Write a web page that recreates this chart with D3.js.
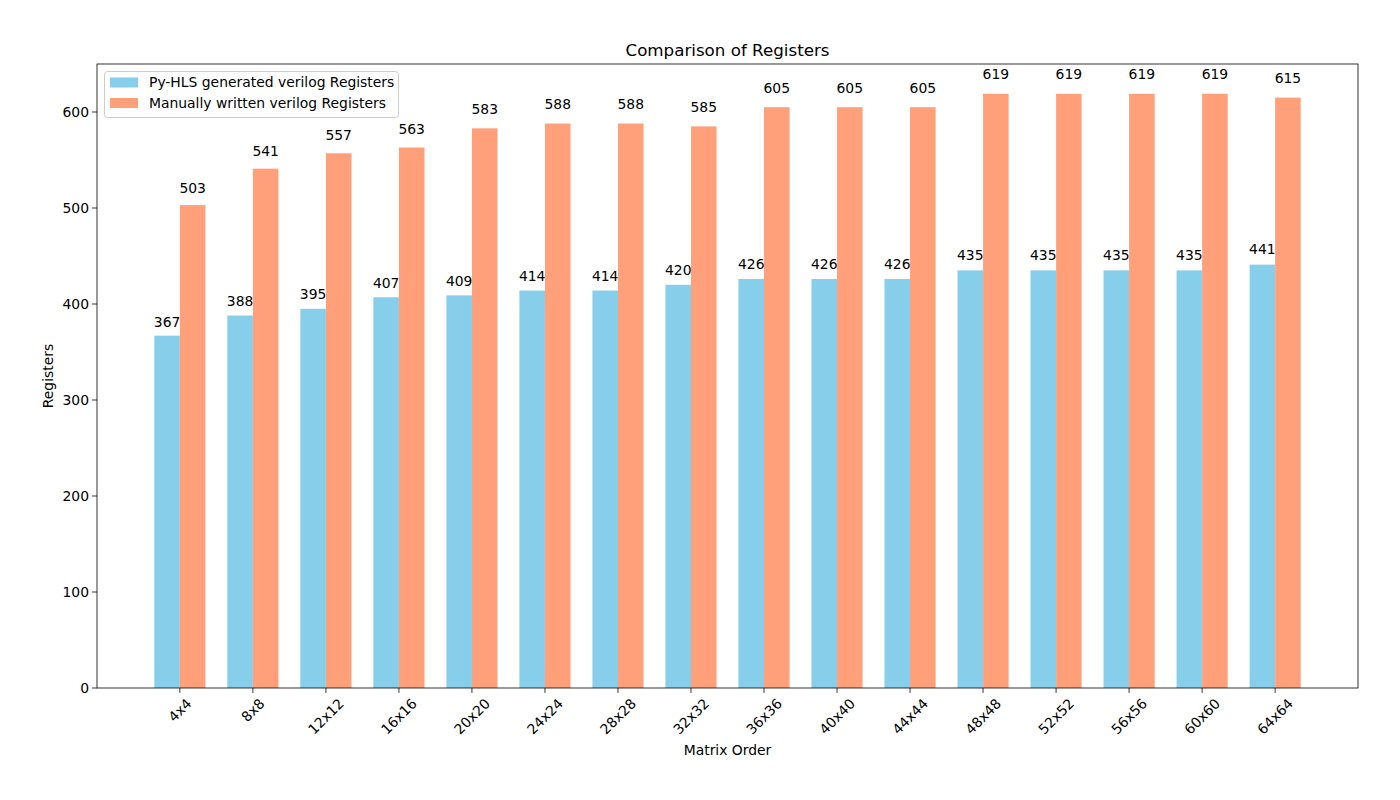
<!DOCTYPE html>
<html><head><meta charset="utf-8">
<script src="https://cdn.jsdelivr.net/npm/d3@7"></script>
<style>body{margin:0;background:#fff}svg{display:block}text{font-family:"DejaVu Sans",sans-serif;fill:#000}</style>
</head><body><svg id="c" width="1400" height="800"></svg>
<script>
const categories = ["4x4","8x8","12x12","16x16","20x20","24x24","28x28","32x32","36x36","40x40","44x44","48x48","52x52","56x56","60x60","64x64"];
const pyhls = [367,388,395,407,409,414,414,420,426,426,426,435,435,435,435,441];
const manual = [503,541,557,563,583,588,588,585,605,605,605,619,619,619,619,615];
const yTicks = [0,100,200,300,400,500,600];
const seriesNames = ["Py-HLS generated verilog Registers","Manually written verilog Registers"];
const colors = ["#87CEEB","#FFA07A"];

const FS = "13.9px";
const svg = d3.select("#c");
const L=97,R=1358,T=64,B=688;
const w=0.35;
const x = d3.scaleLinear().domain([-1.135,16.135]).range([L,R]);
const y = d3.scaleLinear().domain([0,650]).range([B,T]);

const g = svg.append("g");
[pyhls, manual].forEach((vals,si)=>{
  const off = si===0 ? -w : 0;
  g.selectAll(null).data(vals).enter().append("rect")
    .attr("x",(d,i)=>x(i+off)).attr("width",x(w)-x(0))
    .attr("y",d=>y(d)).attr("height",d=>y(0)-y(d)).attr("fill",colors[si]);
  g.selectAll(null).data(vals).enter().append("text")
    .attr("x",(d,i)=>x(i+off+w/2)).attr("y",d=>y(d*1.025))
    .attr("text-anchor","middle").attr("font-size",FS).text(d=>d);
});

// frame
svg.append("rect").attr("x",L).attr("y",T).attr("width",R-L).attr("height",B-T)
  .attr("fill","none").attr("stroke","#000").attr("stroke-width",0.8);

// y axis
yTicks.forEach(t=>{
  svg.append("line").attr("x1",L-4.9).attr("x2",L).attr("y1",y(t)).attr("y2",y(t)).attr("stroke","#000").attr("stroke-width",0.8);
  svg.append("text").attr("x",L-8).attr("y",y(t)).attr("dy","0.35em").attr("text-anchor","end").attr("font-size",FS).text(t);
});
// x axis
categories.forEach((c,i)=>{
  const xx=x(i);
  svg.append("line").attr("x1",xx).attr("x2",xx).attr("y1",B).attr("y2",B+4.9).attr("stroke","#000").attr("stroke-width",0.8);
  const t = svg.append("text").attr("font-size",FS).attr("text-anchor","middle").attr("dominant-baseline","central").text(c);
  const tw = t.node().getComputedTextLength();
  const h = (tw+13)*Math.SQRT1_2;
  t.attr("transform",`translate(${xx},${B+8.4+h/2}) rotate(-45)`);
});

svg.append("text").attr("x",(L+R)/2).attr("y",755).attr("text-anchor","middle").attr("font-size",FS).text("Matrix Order");
svg.append("text").attr("transform",`translate(53,${(T+B)/2}) rotate(-90)`).attr("text-anchor","middle").attr("font-size",FS).text("Registers");
svg.append("text").attr("x",(L+R)/2).attr("y",56).attr("text-anchor","middle").attr("font-size","16.7px").text("Comparison of Registers");

// legend
const lg = svg.append("g");
lg.append("rect").attr("x",104.5).attr("y",71.5).attr("width",294).attr("height",46).attr("rx",3)
  .attr("fill","#fff").attr("fill-opacity",0.8).attr("stroke","#ccc").attr("stroke-width",1);
seriesNames.forEach((n,i)=>{
  const yy = 82.5 + i*20.5;
  lg.append("rect").attr("x",110).attr("y",yy-5).attr("width",28).attr("height",10).attr("fill",colors[i]);
  lg.append("text").attr("x",149).attr("y",yy).attr("dy","0.35em").attr("font-size",FS).text(n);
});
</script></body></html>
